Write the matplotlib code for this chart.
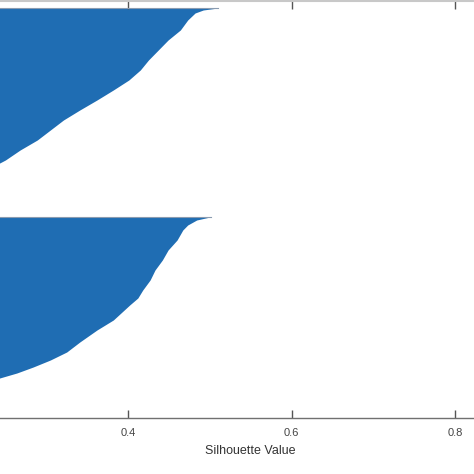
import numpy as np
import matplotlib
matplotlib.use("Agg")
import matplotlib.pyplot as plt

# sorted silhouette values per cluster (row position on the y axis, value)
rows_c1 = [8, 10, 13, 20, 30, 40, 50, 60, 70, 80, 90, 100, 110, 120, 130, 140, 150, 160, 166]
sil_c1 = [0.510, 0.492, 0.482, 0.473, 0.464, 0.449, 0.437, 0.425, 0.415, 0.401,
          0.382, 0.362, 0.341, 0.321, 0.305, 0.289, 0.268, 0.250, 0.236]

rows_c2 = [216.7, 220, 225, 230, 240, 250, 260, 270, 280, 290, 298, 305, 320, 330,
           342, 352, 360, 367, 373, 378, 382]
sil_c2 = [0.502, 0.484, 0.473, 0.467, 0.460, 0.449, 0.442, 0.433, 0.427, 0.418,
          0.412, 0.402, 0.382, 0.362, 0.341, 0.325, 0.305, 0.284, 0.264, 0.243, 0.235]

xticks = [0.4, 0.6, 0.8]
xlim = (0.2434, 0.8232)
ylim = (418, 1)

plt.rcParams['font.family'] = ['Liberation Sans', 'DejaVu Sans']

fig = plt.figure(figsize=(4.74, 4.74), dpi=100)
ax = fig.add_axes([0, 1 - 418 / 474, 1, 417 / 474])

blue = '#1f6db3'
for rows, vals in [(rows_c1, sil_c1), (rows_c2, sil_c2)]:
    ax.fill_betweenx(rows, 0, vals, color=blue, linewidth=0)
    ax.plot([0, vals[0]], [rows[0], rows[0]], color='#8a9bb0', lw=0.8)

ax.set_xticks(xticks)
ax.set_xticklabels(['0.4', '0.6', '0.8'])
ax.set_yticks([])
ax.set_xlim(*xlim)
ax.set_ylim(*ylim)

for side in ['left', 'right']:
    ax.spines[side].set_visible(False)
ax.spines['top'].set_color('#c8c8c8')
ax.spines['top'].set_linewidth(1.5)
ax.spines['bottom'].set_color('#707070')
ax.spines['bottom'].set_linewidth(1.0)

ax.tick_params(axis='x', direction='in', top=True, bottom=True, length=6,
               width=1, color='#555555', labelsize=8, labelcolor='#444444', pad=7)
ax.set_xlabel('Silhouette Value', fontsize=9, color='#333333', labelpad=5)
# the full axes of the original is wider than the crop; its centre sits at 0.55
ax.xaxis.label.set_x((0.55 - xlim[0]) / (xlim[1] - xlim[0]))

fig.savefig('out.png', dpi=100)
